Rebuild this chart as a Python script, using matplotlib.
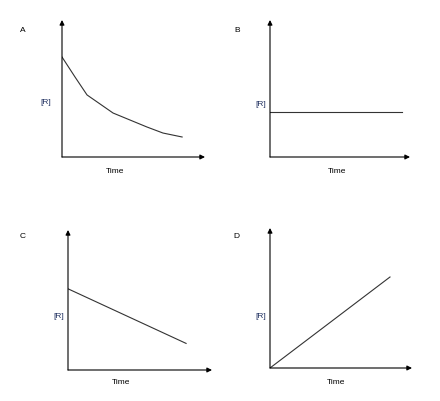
import matplotlib.pyplot as plt

plt.rcParams['font.family'] = ['Liberation Sans', 'DejaVu Sans']

W, H = 440, 401

# curves in axis-fraction units (0..1 along each axis)
a_x = [0, 0.091, 0.175, 0.357, 0.594, 0.706, 0.84]
a_y = [0.73, 0.584, 0.453, 0.321, 0.219, 0.175, 0.146]
b_x = [0, 0.94]
b_y = [0.33, 0.33]
c_x = [0, 0.82]
c_y = [0.58, 0.19]
d_x = [0, 0.845]
d_y = [0, 0.65]

# panel: (letter, axis left px, axis bottom px, width px, height px, letter pos, [R] pos, Time pos, x, y)
panels = [
    ("A", 62, 157, 143, 137, (20, 30), (40, 103), (115, 172), a_x, a_y),
    ("B", 270, 157, 140, 137, (234, 30), (255, 105), (337, 172), b_x, b_y),
    ("C", 68, 370, 144, 140, (20, 236), (53, 316), (121, 383), c_x, c_y),
    ("D", 270, 368, 142, 140, (233, 236), (255, 316), (336, 383), d_x, d_y),
]

fig = plt.figure(figsize=(W / 100, H / 100), dpi=100)

for letter, x0, yb, w, h, lp, rp, tp, xs, ys in panels:
    ax = fig.add_axes([x0 / W, (H - yb) / H, w / W, h / H])
    ax.set_xlim(0, 1)
    ax.set_ylim(0, 1)
    ax.axis("off")
    ax.plot(xs, ys, color="#333333", linewidth=0.8)
    ax.annotate("", xy=(1, 0), xytext=(0, 0), xycoords="axes fraction",
                arrowprops=dict(arrowstyle="-|>", color="black", lw=0.8,
                                mutation_scale=7, shrinkA=0, shrinkB=0))
    ax.annotate("", xy=(0, 1), xytext=(0, 0), xycoords="axes fraction",
                arrowprops=dict(arrowstyle="-|>", color="black", lw=0.8,
                                mutation_scale=7, shrinkA=0, shrinkB=0))
    fig.text(lp[0] / W, 1 - lp[1] / H, letter, fontsize=6, ha="left", va="center")
    fig.text(rp[0] / W, 1 - rp[1] / H, "[R]", fontsize=6, ha="left", va="center",
             color="#203060")
    fig.text(tp[0] / W, 1 - tp[1] / H, "Time", fontsize=6, ha="center", va="center")

fig.savefig("out.png", dpi=100)
